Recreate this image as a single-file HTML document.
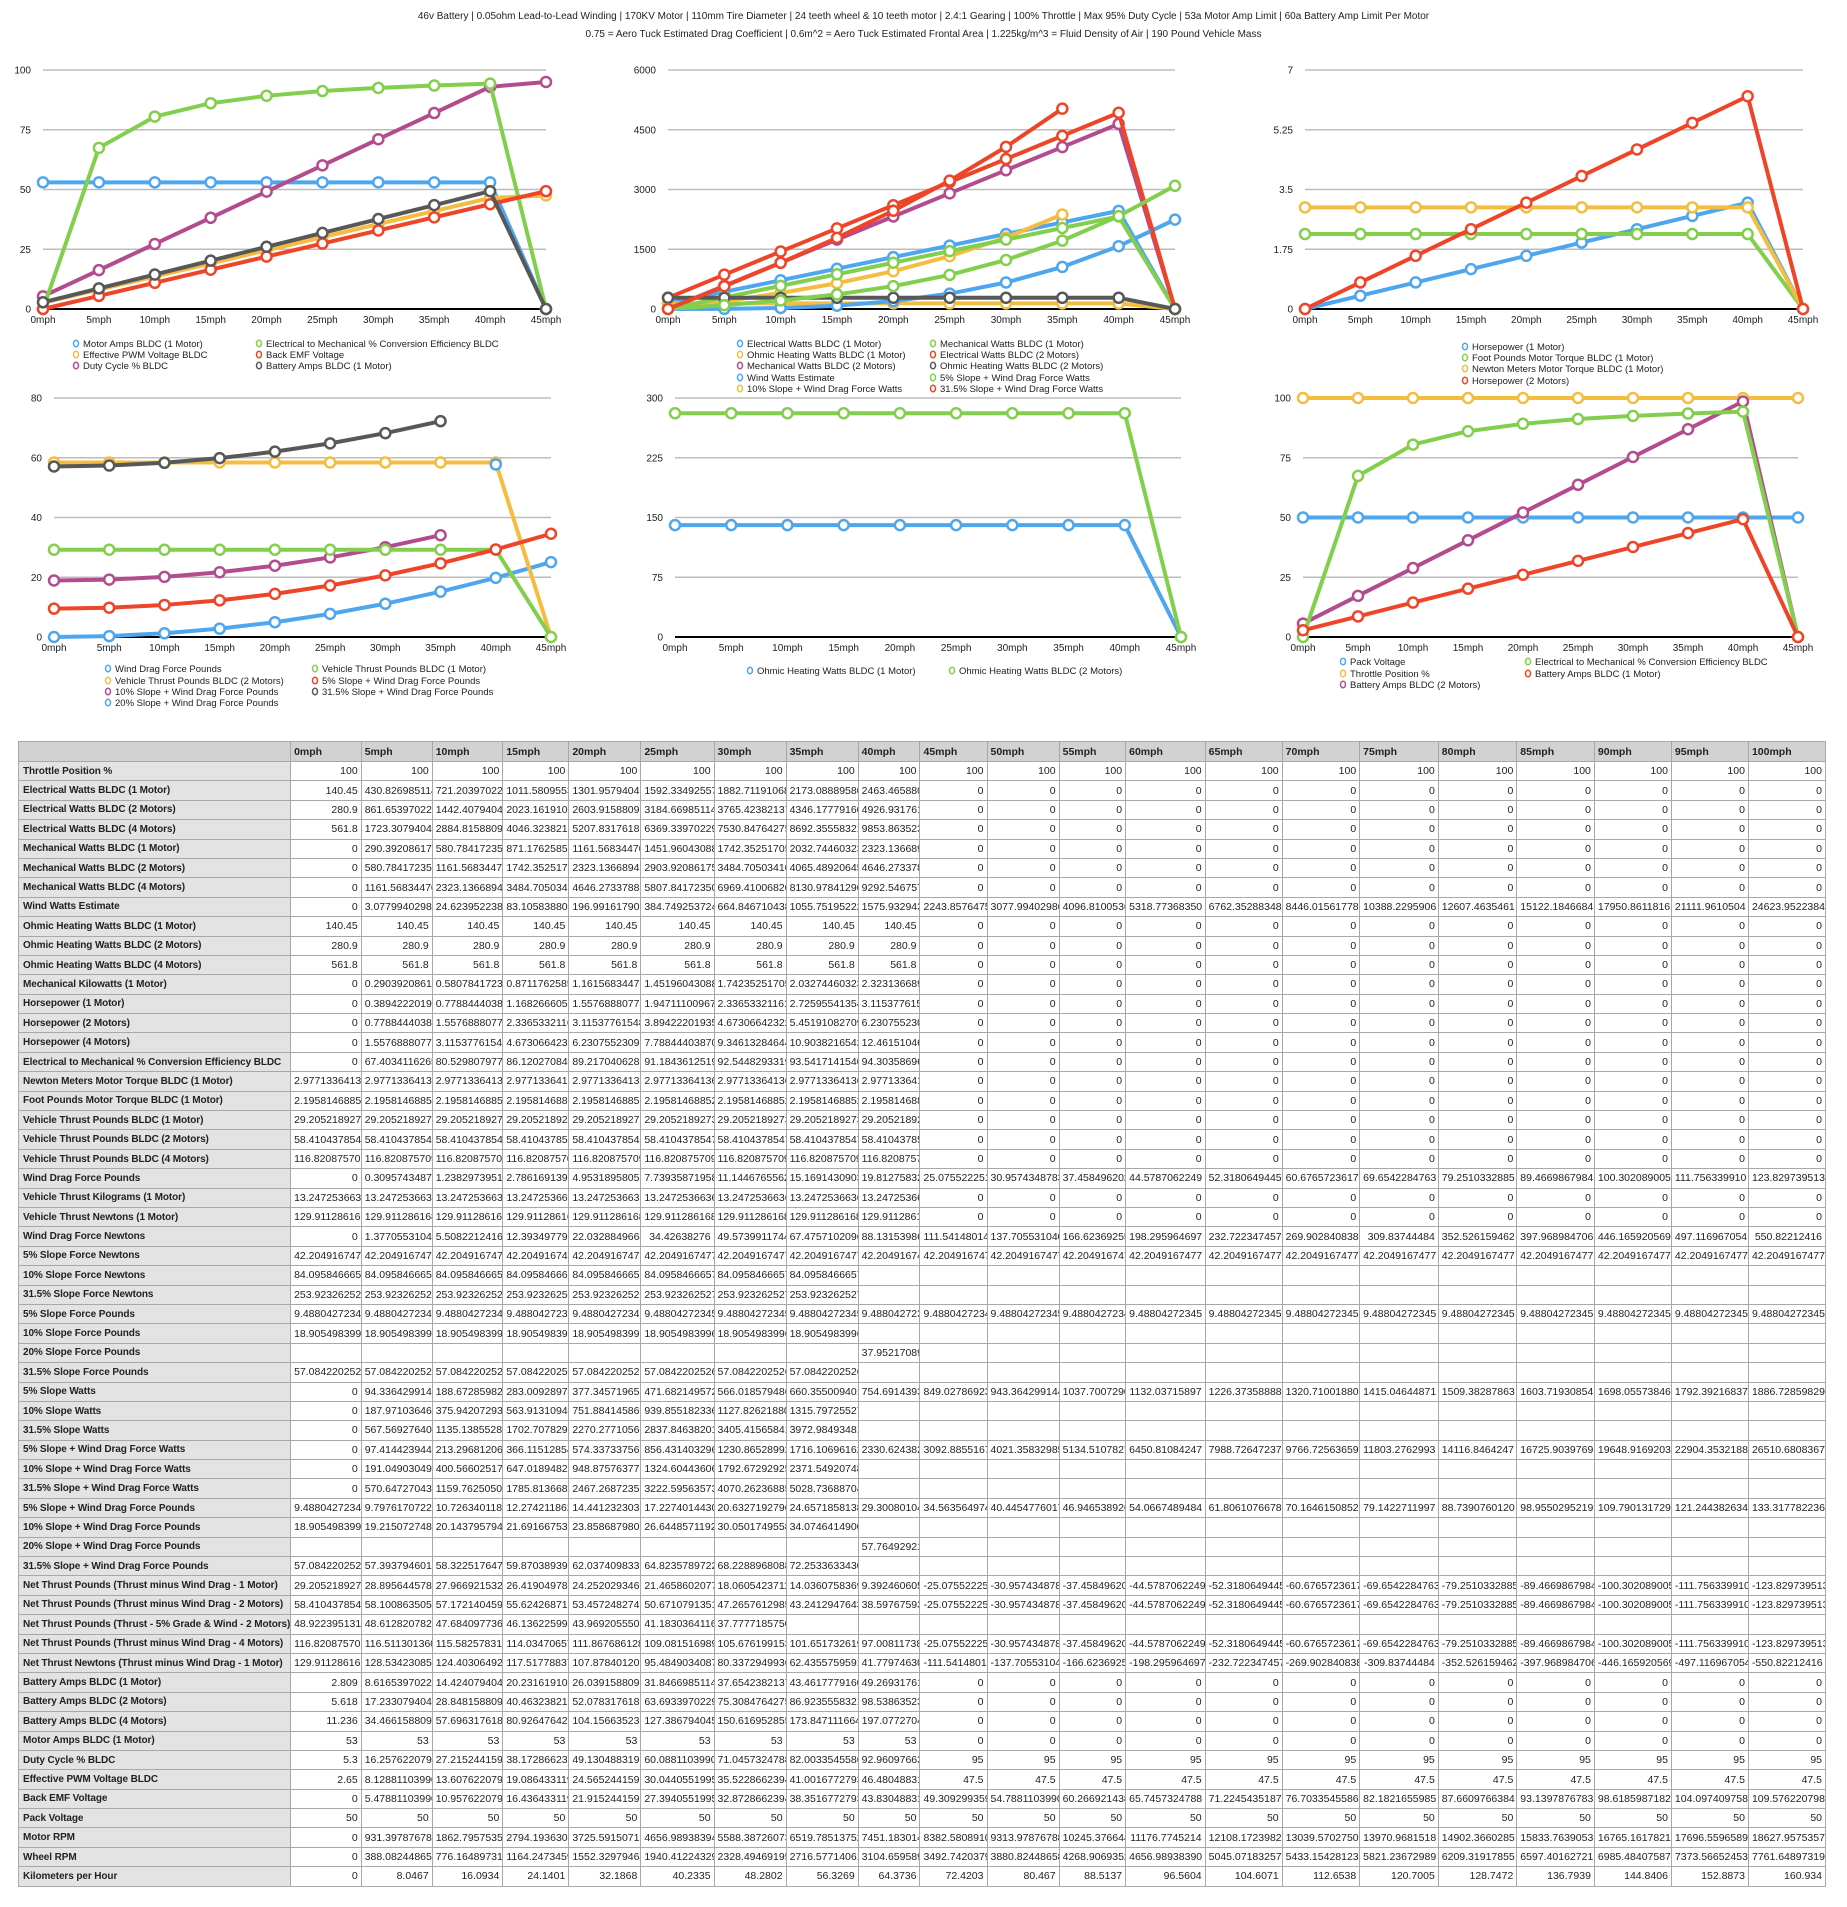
<!DOCTYPE html>
<html><head><meta charset="utf-8">
<style>
body{margin:0;width:1847px;height:1907px;background:#fff;position:relative;overflow:hidden;font-family:"Liberation Sans",sans-serif;}
#charts{position:absolute;left:0;top:0;}
.title{position:absolute;left:0;width:1847px;text-align:center;font-size:10px;color:#222;}
#tbl{position:absolute;left:18px;top:741px;border-collapse:collapse;table-layout:fixed;width:1808px;font-size:10.5px;color:#222;}
#tbl td{border:1px solid #a8a8a8;overflow:hidden;white-space:nowrap;padding:0 3px;height:18.4px;text-align:right;}
#tbl td.lbl{background:#e3e3e3;font-weight:bold;text-align:left;padding-left:4px;font-size:10px;letter-spacing:-0.1px;}
#tbl tr.hd td{background:#d2d2d2;font-weight:bold;text-align:left;height:19px;}
</style></head><body>
<div class="title" style="top:11px">46v Battery | 0.05ohm Lead-to-Lead Winding | 170KV Motor | 110mm Tire Diameter | 24 teeth wheel &amp; 10 teeth motor | 2.4:1 Gearing | 100% Throttle | Max 95% Duty Cycle | 53a Motor Amp Limit | 60a Battery Amp Limit Per Motor</div>
<div class="title" style="top:29px">0.75 = Aero Tuck Estimated Drag Coefficient | 0.6m^2 = Aero Tuck Estimated Frontal Area | 1.225kg/m^3 = Fluid Density of Air | 190 Pound Vehicle Mass</div>
<svg id="charts" width="1847" height="730" xmlns="http://www.w3.org/2000/svg"></svg>
<table id="tbl"></table>
<script>
// ---------- chart data ----------
const speeds = ["0mph","5mph","10mph","15mph","20mph","25mph","30mph","35mph","40mph","45mph"];
const C = {blue:"#4ea6ef",green:"#82cf4d",yellow:"#f4bd3f",red:"#ee4528",purple:"#b34c8e",dark:"#585858"};
// chart 1
const c1Ticks = [0,25,50,75,100];
const c1MotorAmps = [53,53,53,53,53,53,53,53,53,0];
const c1Eff = [0,67.4,80.5,86.1,89.2,91.2,92.5,93.5,94.3,0];
const c1Pwm = [2.65,8.13,13.6,19.09,24.57,30.04,35.52,41.0,46.48,47.5];
const c1Bemf = [0,5.48,10.96,16.44,21.92,27.39,32.87,38.35,43.83,49.31];
const c1Duty = [5.3,16.26,27.22,38.17,49.13,60.09,71.05,82.0,92.96,95];
const c1Batt = [2.81,8.62,14.42,20.23,26.04,31.85,37.65,43.46,49.27,0];
// chart 2
const c2Ticks = [0,1500,3000,4500,6000];
const c2Elec1 = [140,431,721,1012,1302,1592,1883,2173,2463,0];
const c2Ohm1 = [140,140,140,140,140,140,140,140,140,0];
const c2Mech2 = [0,581,1162,1742,2323,2904,3485,4065,4646,0];
const c2Wind = [0,3,25,83,197,385,665,1056,1576,2244];
const c2S10 = [0,191,401,647,949,1325,1793,2372,null,null];
const c2Mech1 = [0,290,581,871,1162,1452,1742,2033,2323,0];
const c2Elec2 = [281,862,1442,2023,2604,3185,3765,4346,4927,0];
const c2Ohm2 = [281,281,281,281,281,281,281,281,281,0];
const c2S5 = [0,97,213,366,574,856,1231,1716,2331,3093];
const c2S315 = [0,571,1160,1786,2467,3223,4070,5029,null,null];
// chart 3
const c3Ticks = [0,1.75,3.5,5.25,7];
const c3Hp1 = [0,0.389,0.779,1.168,1.558,1.947,2.337,2.726,3.115,0];
const c3Ftlb = [2.196,2.196,2.196,2.196,2.196,2.196,2.196,2.196,2.196,0];
const c3Nm = [2.977,2.977,2.977,2.977,2.977,2.977,2.977,2.977,2.977,0];
const c3Hp2 = [0,0.779,1.558,2.337,3.115,3.894,4.673,5.452,6.231,0];
// chart 4
const c4Ticks = [0,20,40,60,80];
const c4Wind = [0,0.31,1.24,2.79,4.95,7.74,11.14,15.17,19.81,25.08];
const c4Vt2 = [58.41,58.41,58.41,58.41,58.41,58.41,58.41,58.41,58.41,0];
const c4S10 = [18.91,19.22,20.14,21.69,23.86,26.64,30.05,34.07,null,null];
const c4S20 = [null,null,null,null,null,null,null,null,57.76,null];
const c4Vt1 = [29.21,29.21,29.21,29.21,29.21,29.21,29.21,29.21,29.21,0];
const c4S5 = [9.49,9.8,10.73,12.27,14.44,17.23,20.63,24.66,29.3,34.56];
const c4S315 = [57.08,57.39,58.32,59.87,62.04,64.82,68.23,72.25,null,null];
// chart 5
const c5Ticks = [0,75,150,225,300];
const c5Ohm1 = [140.45,140.45,140.45,140.45,140.45,140.45,140.45,140.45,140.45,0];
const c5Ohm2 = [280.9,280.9,280.9,280.9,280.9,280.9,280.9,280.9,280.9,0];
// chart 6
const c6Ticks = [0,25,50,75,100];
const c6Pack = [50,50,50,50,50,50,50,50,50,50];
const c6Throttle = [100,100,100,100,100,100,100,100,100,100];
const c6Batt2 = [5.62,17.23,28.85,40.46,52.08,63.69,75.31,86.92,98.54,0];
const c6Eff = [0,67.4,80.5,86.1,89.2,91.2,92.5,93.5,94.3,0];
const c6Batt1 = [2.81,8.62,14.42,20.23,26.04,31.85,37.65,43.46,49.27,0];

const svg = document.getElementById('charts');
const NS = "http://www.w3.org/2000/svg";
function mk(tag, attrs, parent){const e=document.createElementNS(NS,tag);for(const k in attrs)e.setAttribute(k,attrs[k]);(parent||svg).appendChild(e);return e;}

function chart(id, x0, x1, yTop, yBot, ticks, series, legend){
  const g = mk('g',{});
  
  
  const max = ticks[ticks.length-1];
  const X = i => x0 + (x1-x0)*i/(speeds.length-1);
  const Y = v => yBot - (yBot-yTop)*v/max;
  ticks.forEach(t=>{
    const ln = mk('line',{x1:x0,x2:x1,y1:Y(t),y2:Y(t),stroke:t===0?'#000':'#bdbdbd','stroke-width':t===0?2:1.5},g);
    
    
    const tx = mk('text',{x:x0-12,y:Y(t)+3.5,'text-anchor':'end','font-size':10,fill:'#222'},g);
    tx.textContent = t;
    
    
  });
  speeds.forEach((s,i)=>{
    const tx = mk('text',{x:X(i),y:yBot+14,'text-anchor':'middle','font-size':10,fill:'#222'},g);
    tx.textContent = s;
    
    
  });
  series.forEach(([vals,col])=>{
    let d='';let pen=false;
    vals.forEach((v,i)=>{ if(v===null){pen=false;return;} d+=(pen?'L':'M')+X(i)+' '+Y(v)+' '; pen=true;});
    const p = mk('path',{d:d,fill:'none',stroke:col,'stroke-width':4,'stroke-linejoin':'round'},g);
    
    
    vals.forEach((v,i)=>{ if(v===null)return;
      const c = mk('circle',{cx:X(i),cy:Y(v),r:5,fill:'#fff',stroke:col,'stroke-width':2.5},g);
      
      
    });
  });
  legend.forEach(([lx,ly,txt,col])=>{
    const c = mk('ellipse',{cx:lx,cy:ly-3.5,rx:2.5,ry:3.3,fill:'#fff',stroke:col,'stroke-width':1.5},g);
    
    
    const t = mk('text',{x:lx+7,y:ly,'font-size':9.5,fill:'#222'},g);
    t.textContent = txt;
    
    
  });
}

chart('chart-motor-efficiency',43,546,70,309,c1Ticks,
 [[c1MotorAmps,C.blue],[c1Pwm,C.yellow],[c1Duty,C.purple],[c1Eff,C.green],[c1Bemf,C.red],[c1Batt,C.dark]],
 [[76,347,'Motor Amps BLDC (1 Motor)',C.blue],[76,358,'Effective PWM Voltage BLDC',C.yellow],[76,369,'Duty Cycle % BLDC',C.purple],
  [259,347,'Electrical to Mechanical % Conversion Efficiency BLDC',C.green],[259,358,'Back EMF Voltage',C.red],[259,369,'Battery Amps BLDC (1 Motor)',C.dark]]);

chart('chart-watts',668,1175,70,309,c2Ticks,
 [[c2Elec1,C.blue],[c2Ohm1,C.yellow],[c2Mech2,C.purple],[c2Wind,C.blue],[c2S10,C.yellow],[c2Mech1,C.green],[c2Elec2,C.red],[c2Ohm2,C.dark],[c2S5,C.green],[c2S315,C.red]],
 [[740,347,'Electrical Watts BLDC (1 Motor)',C.blue],[740,358,'Ohmic Heating Watts BLDC (1 Motor)',C.yellow],[740,369,'Mechanical Watts BLDC (2 Motors)',C.purple],[740,381,'Wind Watts Estimate',C.blue],[740,392,'10% Slope + Wind Drag Force Watts',C.yellow],
  [933,347,'Mechanical Watts BLDC (1 Motor)',C.green],[933,358,'Electrical Watts BLDC (2 Motors)',C.red],[933,369,'Ohmic Heating Watts BLDC (2 Motors)',C.dark],[933,381,'5% Slope + Wind Drag Force Watts',C.green],[933,392,'31.5% Slope + Wind Drag Force Watts',C.red]]);

chart('chart-horsepower-torque',1305,1803,70,309,c3Ticks,
 [[c3Hp1,C.blue],[c3Ftlb,C.green],[c3Nm,C.yellow],[c3Hp2,C.red]],
 [[1465,350,'Horsepower (1 Motor)',C.blue],[1465,361,'Foot Pounds Motor Torque BLDC (1 Motor)',C.green],[1465,372,'Newton Meters Motor Torque BLDC (1 Motor)',C.yellow],[1465,384,'Horsepower (2 Motors)',C.red]]);

chart('chart-thrust-drag',54,551,398,637,c4Ticks,
 [[c4Wind,C.blue],[c4Vt2,C.yellow],[c4S10,C.purple],[c4S20,C.blue],[c4Vt1,C.green],[c4S5,C.red],[c4S315,C.dark]],
 [[108,672,'Wind Drag Force Pounds',C.blue],[108,684,'Vehicle Thrust Pounds BLDC (2 Motors)',C.yellow],[108,695,'10% Slope + Wind Drag Force Pounds',C.purple],[108,706,'20% Slope + Wind Drag Force Pounds',C.blue],
  [315,672,'Vehicle Thrust Pounds BLDC (1 Motor)',C.green],[315,684,'5% Slope + Wind Drag Force Pounds',C.red],[315,695,'31.5% Slope + Wind Drag Force Pounds',C.dark]]);

chart('chart-ohmic-heating',675,1181,398,637,c5Ticks,
 [[c5Ohm1,C.blue],[c5Ohm2,C.green]],
 [[750,674,'Ohmic Heating Watts BLDC (1 Motor)',C.blue],[952,674,'Ohmic Heating Watts BLDC (2 Motors)',C.green]]);

chart('chart-battery',1303,1798,398,637,c6Ticks,
 [[c6Pack,C.blue],[c6Throttle,C.yellow],[c6Batt2,C.purple],[c6Eff,C.green],[c6Batt1,C.red]],
 [[1343,665,'Pack Voltage',C.blue],[1343,677,'Throttle Position %',C.yellow],[1343,688,'Battery Amps BLDC (2 Motors)',C.purple],
  [1528,665,'Electrical to Mechanical % Conversion Efficiency BLDC',C.green],[1528,677,'Battery Amps BLDC (1 Motor)',C.red]]);

// ---------- table ----------
const R=(v,n)=>Array(n).fill(v);
const Z12=R('0',12);
const tableHeader = ["0mph","5mph","10mph","15mph","20mph","25mph","30mph","35mph","40mph","45mph","50mph","55mph","60mph","65mph","70mph","75mph","80mph","85mph","90mph","95mph","100mph"];
const negLb = ['-25.0755222514','-30.9574348783','-37.4584962028','-44.5787062249','-52.3180649445','-60.6765723617','-69.6542284763','-79.2510332885','-89.4669867984','-100.302089005','-111.756339910','-123.829739513'];
const rows = [
["Throttle Position %",R('100',21)],
["Electrical Watts BLDC (1 Motor)",['140.45','430.826985114','721.203970229','1011.58095534','1301.95794045','1592.33492557','1882.71191068','2173.08889580','2463.46588091',...Z12]],
["Electrical Watts BLDC (2 Motors)",['280.9','861.653970229','1442.40794045','2023.16191068','2603.91588091','3184.66985114','3765.42382137','4346.17779160','4926.93176182',...Z12]],
["Electrical Watts BLDC (4 Motors)",['561.8','1723.30794045','2884.81588091','4046.32382137','5207.83176182','6369.33970229','7530.84764275','8692.35558321','9853.86352366',...Z12]],
["Mechanical Watts BLDC (1 Motor)",['0','290.392086175','580.784172350','871.176258525','1161.56834470','1451.96043088','1742.35251705','2032.74460323','2323.13668940',...Z12]],
["Mechanical Watts BLDC (2 Motors)",['0','580.784172350','1161.56834470','1742.35251705','2323.13668940','2903.92086175','3484.70503410','4065.48920645','4646.27337880',...Z12]],
["Mechanical Watts BLDC (4 Motors)",['0','1161.56834470','2323.13668940','3484.70503410','4646.27337880','5807.84172350','6969.41006820','8130.97841290','9292.54675760',...Z12]],
["Wind Watts Estimate",['0','3.07799402986','24.6239522384','83.1058388046','196.991617907','384.749253724','664.846710438','1055.75195222','1575.93294325','2243.85764751','3077.99402986','4096.81005367','5318.77368350','6762.35288348','8446.01561778','10388.2295906','12607.4635461','15122.1846684','17950.8611816','21111.9610504','24623.9522384']],
["Ohmic Heating Watts BLDC (1 Motor)",[...R('140.45',9),...Z12]],
["Ohmic Heating Watts BLDC (2 Motors)",[...R('280.9',9),...Z12]],
["Ohmic Heating Watts BLDC (4 Motors)",[...R('561.8',9),...Z12]],
["Mechanical Kilowatts (1 Motor)",['0','0.29039208617','0.58078417235','0.87117625852','1.16156834470','1.45196043088','1.74235251705','2.03274460323','2.32313668940',...Z12]],
["Horsepower (1 Motor)",['0','0.38942220193','0.77884440387','1.16826660580','1.55768880774','1.94711100967','2.33653321161','2.72595541354','3.11537761548',...Z12]],
["Horsepower (2 Motors)",['0','0.77884440387','1.55768880774','2.33653321161','3.11537761548','3.89422201935','4.67306642322','5.45191082709','6.23075523096',...Z12]],
["Horsepower (4 Motors)",['0','1.55768880774','3.11537761548','4.67306642322','6.23075523096','7.78844403870','9.34613284644','10.9038216542','12.4615104619',...Z12]],
["Electrical to Mechanical % Conversion Efficiency BLDC",['0','67.4034116265','80.5298079772','86.1202708473','89.2170406287','91.1843612519','92.5448293319','93.5417141540','94.3035869620',...Z12]],
["Newton Meters Motor Torque BLDC (1 Motor)",[...R('2.97713364136',9),...Z12]],
["Foot Pounds Motor Torque BLDC (1 Motor)",[...R('2.19581468852',9),...Z12]],
["Vehicle Thrust Pounds BLDC (1 Motor)",[...R('29.2052189273',9),...Z12]],
["Vehicle Thrust Pounds BLDC (2 Motors)",[...R('58.4104378547',9),...Z12]],
["Vehicle Thrust Pounds BLDC (4 Motors)",[...R('116.820875709',9),...Z12]],
["Wind Drag Force Pounds",['0','0.30957434871','1.23829739513','2.78616913905','4.95318958053','7.73935871958','11.1446765562','15.1691430903','19.8127583221','25.0755222514','30.9574348783','37.4584962028','44.5787062249','52.3180649445','60.6765723617','69.6542284763','79.2510332885','89.4669867984','100.302089005','111.756339910','123.829739513']],
["Vehicle Thrust Kilograms (1 Motor)",[...R('13.2472536636',9),...Z12]],
["Vehicle Thrust Newtons (1 Motor)",[...R('129.911286168',9),...Z12]],
["Wind Drag Force Newtons",['0','1.3770553104','5.5082212416','12.3934977936','22.0328849664','34.42638276','49.5739911744','67.4757102096','88.1315398656','111.541480142','137.705531040','166.623692558','198.295964697','232.722347457','269.902840838','309.83744484','352.526159462','397.968984706','446.165920569','497.116967054','550.82212416']],
["5% Slope Force Newtons",R('42.2049167477',21)],
["10% Slope Force Newtons",[...R('84.0958466657',8),...R('',13)]],
["31.5% Slope Force Newtons",[...R('253.923262527',8),...R('',13)]],
["5% Slope Force Pounds",R('9.48804272345',21)],
["10% Slope Force Pounds",[...R('18.9054983996',8),...R('',13)]],
["20% Slope Force Pounds",[...R('',8),'37.9521708900',...R('',12)]],
["31.5% Slope Force Pounds",[...R('57.0842202526',8),...R('',13)]],
["5% Slope Watts",['0','94.3364299144','188.672859828','283.009289743','377.345719657','471.682149572','566.018579486','660.355009401','754.691439315','849.027869230','943.364299144','1037.70072906','1132.03715897','1226.37358888','1320.71001880','1415.04644871','1509.38287863','1603.71930854','1698.05573846','1792.39216837','1886.72859829']],
["10% Slope Watts",['0','187.971036461','375.942072934','563.913109400','751.884145869','939.855182336','1127.82621880','1315.79725527',...R('',13)]],
["31.5% Slope Watts",['0','567.569276402','1135.13855280','1702.70782921','2270.27710560','2837.84638201','3405.41565841','3972.98493481',...R('',13)]],
["5% Slope + Wind Drag Force Watts",['0','97.4144239443','213.296812067','366.115128547','574.337337565','856.431403296','1230.86528992','1716.10696162','2330.62438256','3092.88551674','4021.35832985','5134.51078273','6450.81084247','7988.72647237','9766.72563659','11803.2762993','14116.8464247','16725.9039769','19648.9169203','22904.3532188','26510.6808367']],
["10% Slope + Wind Drag Force Watts",['0','191.049030497','400.566025173','647.018948200','948.875763777','1324.60443606','1792.67292925','2371.54920748',...R('',13)]],
["31.5% Slope + Wind Drag Force Watts",['0','570.647270432','1159.76250504','1785.81366801','2467.26872351','3222.59563573','4070.26236885','5028.73688704',...R('',13)]],
["5% Slope + Wind Drag Force Pounds",['9.48804272345','9.79761707222','10.7263401185','12.2742118625','14.4412323039','17.2274014430','20.6327192796','24.6571858138','29.3008010455','34.5635649748','40.4454776017','46.9465389262','54.0667489484','61.8061076678','70.1646150852','79.1422711997','88.7390760120','98.9550295219','109.790131729','121.244382634','133.317782236']],
["10% Slope + Wind Drag Force Pounds",['18.9054983996','19.2150727484','20.1437957947','21.6916675387','23.8586879801','26.6448571192','30.0501749558','34.0746414900',...R('',13)]],
["20% Slope + Wind Drag Force Pounds",[...R('',8),'57.7649292107',...R('',12)]],
["31.5% Slope + Wind Drag Force Pounds",['57.0842202526','57.3937946013','58.3225176477','59.8703893917','62.0374098331','64.8235789722','68.2288968088','72.2533633430',...R('',13)]],
["Net Thrust Pounds (Thrust minus Wind Drag - 1 Motor)",['29.2052189273','28.8956445786','27.9669215322','26.4190497882','24.2520293468','21.4658602077','18.0605423711','14.0360758369','9.39246060520',...negLb]],
["Net Thrust Pounds (Thrust minus Wind Drag - 2 Motors)",['58.4104378547','58.1008635059','57.1721404595','55.6242687155','53.4572482741','50.6710791351','47.2657612985','43.2412947643','38.5976759325',...negLb]],
["Net Thrust Pounds (Thrust - 5% Grade & Wind - 2 Motors)",['48.9223951312','48.6128207825','47.6840977361','46.1362259921','43.9692055507','41.1830364116','37.7777185750',...R('',14)]],
["Net Thrust Pounds (Thrust minus Wind Drag - 4 Motors)",['116.820875709','116.511301360','115.582578314','114.034706570','111.867686128','109.081516989','105.676199153','101.651732619','97.0081173818',...negLb]],
["Net Thrust Newtons (Thrust minus Wind Drag - 1 Motor)",['129.911286168','128.534230858','124.403064927','117.517788375','107.878401202','95.4849034087','80.3372949936','62.4355759591','41.7797463024','-111.541480142','-137.705531040','-166.623692558','-198.295964697','-232.722347457','-269.902840838','-309.83744484','-352.526159462','-397.968984706','-446.165920569','-497.116967054','-550.82212416']],
["Battery Amps BLDC (1 Motor)",['2.809','8.61653970229','14.4240794045','20.2316191068','26.0391588091','31.8466985114','37.6542382137','43.4617779160','49.2693176182',...Z12]],
["Battery Amps BLDC (2 Motors)",['5.618','17.2330794045','28.8481588091','40.4632382137','52.0783176182','63.6933970229','75.3084764275','86.9235558321','98.5386352366',...Z12]],
["Battery Amps BLDC (4 Motors)",['11.236','34.4661588091','57.6963176182','80.9264764273','104.156635236','127.386794045','150.616952855','173.847111664','197.077270473',...Z12]],
["Motor Amps BLDC (1 Motor)",[...R('53',9),...Z12]],
["Duty Cycle % BLDC",['5.3','16.2576220798','27.2152441596','38.1728662394','49.1304883192','60.0881103990','71.0457324788','82.0033545586','92.9609766384',...R('95',12)]],
["Effective PWM Voltage BLDC",['2.65','8.12881103990','13.6076220798','19.0864331197','24.5652441596','30.0440551995','35.5228662394','41.0016772793','46.4804883192',...R('47.5',12)]],
["Back EMF Voltage",['0','5.47881103990','10.9576220798','16.4364331197','21.9152441596','27.3940551995','32.8728662394','38.3516772793','43.8304883192','49.3092993591','54.7881103990','60.2669214389','65.7457324788','71.2245435187','76.7033545586','82.1821655985','87.6609766384','93.1397876783','98.6185987182','104.097409758','109.576220798']],
["Pack Voltage",R('50',21)],
["Motor RPM",['0','931.397876788','1862.79575358','2794.19363036','3725.59150715','4656.98938394','5588.38726073','6519.78513752','7451.18301430','8382.58089109','9313.97876788','10245.3766447','11176.7745214','12108.1723982','13039.5702750','13970.9681518','14902.3660285','15833.7639053','16765.1617821','17696.5596589','18627.9575357']],
["Wheel RPM",['0','388.082448658','776.164897319','1164.24734598','1552.32979464','1940.41224329','2328.49469195','2716.57714061','3104.65958927','3492.74203793','3880.82448658','4268.90693524','4656.98938390','5045.07183257','5433.15428123','5821.23672989','6209.31917855','6597.40162721','6985.48407587','7373.56652453','7761.64897319']],
["Kilometers per Hour",['0','8.0467','16.0934','24.1401','32.1868','40.2335','48.2802','56.3269','64.3736','72.4203','80.467','88.5137','96.5604','104.6071','112.6538','120.7005','128.7472','136.7939','144.8406','152.8873','160.934']]
];
const colW = [272,70.6,71,70.6,66,72,73.2,72,72.1,61.8,67,72.1,66.5,79.5,77,77.5,78.6,78.5,77.6,77,77,76.9];
const tbl = document.getElementById('tbl');
const cg = document.createElement('colgroup');
colW.forEach(w=>{const c=document.createElement('col');c.style.width=w+'px';cg.appendChild(c);});
tbl.appendChild(cg);
const hr = document.createElement('tr'); hr.className='hd';


hr.appendChild(document.createElement('td'));
tableHeader.forEach(h=>{const td=document.createElement('td');td.textContent=h;
  
  
  hr.appendChild(td);});
tbl.appendChild(hr);
rows.forEach(([lbl,vals])=>{
  const tr=document.createElement('tr');
  
  
  const l=document.createElement('td');l.className='lbl';l.textContent=lbl;
  
  
  tr.appendChild(l);
  vals.forEach(v=>{const td=document.createElement('td');td.textContent=v;
    
    
    tr.appendChild(td);});
  tbl.appendChild(tr);
});
</script>
</body></html>
